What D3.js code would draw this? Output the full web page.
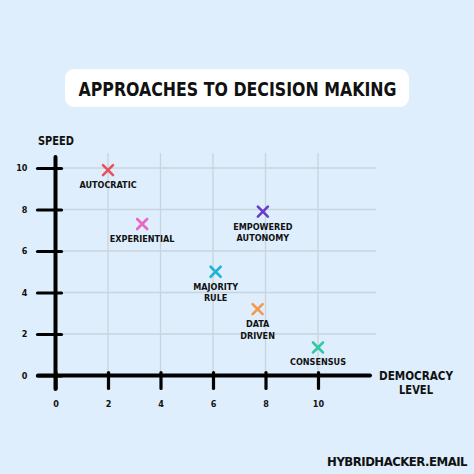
<!DOCTYPE html>
<html><head><meta charset="utf-8">
<script src="https://cdn.jsdelivr.net/npm/d3@7"></script>
<style>html,body{margin:0;padding:0;background:#deeefc;}svg{display:block;}</style>
</head><body>
<svg id="c" width="474" height="474"></svg>
<script>
const names = ["AUTOCRATIC", "EXPERIENTIAL", "EMPOWERED\nAUTONOMY", "MAJORITY\nRULE", "DATA\nDRIVEN", "CONSENSUS"];
const democracy = [2, 3.3, 7.9, 6.1, 7.7, 10];
const speed = [9.9, 7.3, 7.9, 5.0, 3.2, 1.35];
const colors = ["#e8505b", "#e866c4", "#6a3ccc", "#22b4d8", "#f5984a", "#33c9a7"];
const ticks = [0, 2, 4, 6, 8, 10];
const title = "APPROACHES TO DECISION MAKING";
const xLabel = ["DEMOCRACY", "LEVEL"];
const yLabel = "SPEED";
const credit = "HYBRIDHACKER.EMAIL";

const svg = d3.select("#c");
const font = "'DejaVu Sans Condensed','DejaVu Sans',sans-serif";
svg.append("rect").attr("width",474).attr("height",474).attr("fill","#deeefc");

const x = d3.scaleLinear().domain([0,10]).range([55.5,318]);
const y = d3.scaleLinear().domain([0,10]).range([375.5,168]);

// title box
svg.append("rect").attr("x",65).attr("y",69).attr("width",344).attr("height",38).attr("rx",9).attr("fill","#fff");
svg.append("text").attr("x",237.5).attr("y",96).attr("text-anchor","middle")
  .attr("font-family",font).attr("font-weight","bold").attr("font-size",20)
  .attr("textLength",318).attr("lengthAdjust","spacingAndGlyphs").attr("fill","#111").text(title);

// grid
const g = svg.append("g");
g.selectAll("line.v").data(ticks.slice(1)).join("line")
  .attr("x1",d=>x(d)).attr("x2",d=>x(d)).attr("y1",153).attr("y2",y(0))
  .attr("stroke","#c8d4de").attr("stroke-width",1.3);
g.selectAll("line.h").data(ticks.slice(1)).join("line")
  .attr("y1",d=>y(d)).attr("y2",d=>y(d)).attr("x1",x(0)).attr("x2",376)
  .attr("stroke","#c8d4de").attr("stroke-width",1.3);

// axes
const xAxis = d3.axisBottom(x).tickValues(ticks).tickSize(0).tickFormat(d3.format("d"));
const xa = svg.append("g").attr("transform",`translate(0,${y(0)})`).call(xAxis);
xa.select(".domain").remove();
xa.selectAll(".tick text").attr("y",25).attr("font-family",font).attr("font-weight","bold").attr("font-size",9).attr("fill","#111");
xa.selectAll(".tick line").attr("y1",-3).attr("y2",13).attr("stroke","#000").attr("stroke-width",3.2).attr("stroke-linecap","round");

const yAxis = d3.axisLeft(y).tickValues(ticks).tickSize(0).tickFormat(d3.format("d"));
const ya = svg.append("g").attr("transform",`translate(${x(0)},0)`).call(yAxis);
ya.select(".domain").remove();
ya.selectAll(".tick text").attr("x",-28).attr("font-family",font).attr("font-weight","bold").attr("font-size",9).attr("fill","#111");
ya.selectAll(".tick line").attr("x1",-18).attr("x2",6).attr("stroke","#000").attr("stroke-width",3.2).attr("stroke-linecap","round");

// main axis lines
svg.append("line").attr("x1",38).attr("x2",370).attr("y1",y(0)).attr("y2",y(0))
  .attr("stroke","#000").attr("stroke-width",4).attr("stroke-linecap","round");
svg.append("line").attr("x1",x(0)).attr("x2",x(0)).attr("y1",157).attr("y2",389)
  .attr("stroke","#000").attr("stroke-width",4).attr("stroke-linecap","round");

// axis labels
svg.append("text").attr("x",56).attr("y",145).attr("text-anchor","middle")
  .attr("font-family",font).attr("font-weight","bold").attr("font-size",11.5)
  .attr("textLength",36).attr("lengthAdjust","spacingAndGlyphs").attr("fill","#111").text(yLabel);
const xlw = [74, 34];
xLabel.forEach((t,i)=>{
  svg.append("text").attr("x",416).attr("y",380+i*14).attr("text-anchor","middle")
    .attr("font-family",font).attr("font-weight","bold").attr("font-size",12.5)
    .attr("textLength",xlw[i]).attr("lengthAdjust","spacingAndGlyphs").attr("fill","#111").text(t);
});

// points
const pts = svg.append("g").selectAll("g").data(names).join("g")
  .attr("transform",(d,i)=>`translate(${x(democracy[i])},${y(speed[i])})`);
const s = 5;
pts.append("path").attr("d",`M${-s},${-s}L${s},${s}M${s},${-s}L${-s},${s}`)
  .attr("stroke",(d,i)=>colors[i]).attr("stroke-width",2.6).attr("stroke-linecap","round").attr("fill","none");
pts.each(function(d){
  const lines = d.split("\n");
  const sel = d3.select(this);
  lines.forEach((l,j)=>{
    sel.append("text").attr("x",0).attr("y",18+j*11.5).attr("text-anchor","middle")
      .attr("font-family",font).attr("font-weight","bold").attr("font-size",9).attr("fill","#111").text(l);
  });
});

svg.append("text").attr("x",467).attr("y",466).attr("text-anchor","end")
  .attr("font-family",font).attr("font-weight","bold").attr("font-size",13)
  .attr("letter-spacing",-0.5).attr("fill","#111").text(credit);
</script>
</body></html>
